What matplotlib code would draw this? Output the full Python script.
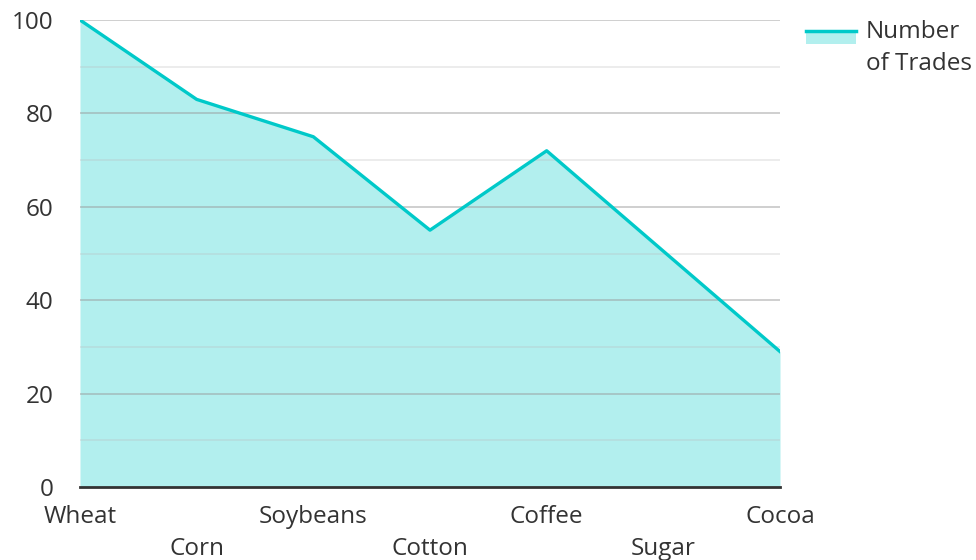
import matplotlib.pyplot as plt
from matplotlib.lines import Line2D
from matplotlib.patches import Rectangle

plt.rcParams['font.family'] = ['Open Sans', 'DejaVu Sans']

# Data
commodities = ['Wheat', 'Corn', 'Soybeans', 'Cotton', 'Coffee', 'Sugar', 'Cocoa']
trades = [100, 83, 75, 55, 72, 50.5, 29]
series_name = 'Number\nof Trades'

line_color = '#00C9C9'
fill_color = '#B2EFEE'
text_color = '#333333'
fs = 17.5

fig = plt.figure(figsize=(9.76, 5.6), dpi=100)
ax = fig.add_axes([80 / 976, 1 - 487 / 560, 700 / 976, 467 / 560])

x = list(range(len(commodities)))
ax.fill_between(x, trades, 0, color=fill_color, zorder=2, linewidth=0)
ax.plot(x, trades, color=line_color, linewidth=2.4, zorder=3)

# grid lines (major every 20, minor every 10), drawn over the fill with transparency
for v in range(10, 101, 10):
    if v % 20 == 0:
        ax.axhline(v, color='#999999', alpha=0.5, linewidth=1.3, zorder=2.5)
    else:
        ax.axhline(v, color='#bbbbbb', alpha=0.3, linewidth=1.3, zorder=2.5)

ax.set_xlim(0, len(commodities) - 1)
ax.set_ylim(0, 100)
ax.set_yticks(range(0, 101, 20))
ax.set_xticks(x)
labels = [c if i % 2 == 0 else '\n' + c for i, c in enumerate(commodities)]
ax.set_xticklabels(labels, fontsize=fs, color=text_color, linespacing=1.45)
ax.tick_params(axis='y', labelsize=fs, labelcolor=text_color, length=0, pad=19)
ax.tick_params(axis='x', length=0, pad=13)

for s in ['top', 'right', 'left']:
    ax.spines[s].set_visible(False)
ax.spines['bottom'].set_color(text_color)
ax.spines['bottom'].set_linewidth(2)
ax.spines['bottom'].set_zorder(4)

# legend: filled swatch with the line along its top edge
W, H = 976, 560
fig.add_artist(Rectangle((806 / W, 1 - 44 / H), 50 / W, 14 / H,
                         transform=fig.transFigure, facecolor=fill_color, edgecolor='none'))
fig.add_artist(Line2D([806 / W, 856 / W], [1 - 31 / H, 1 - 31 / H],
                      transform=fig.transFigure, color=line_color, linewidth=2.5))
fig.text(866 / W, 1 - 20 / H, series_name, fontsize=fs, color=text_color,
         va='top', ha='left', linespacing=1.45)

fig.savefig('out.png', dpi=100)
